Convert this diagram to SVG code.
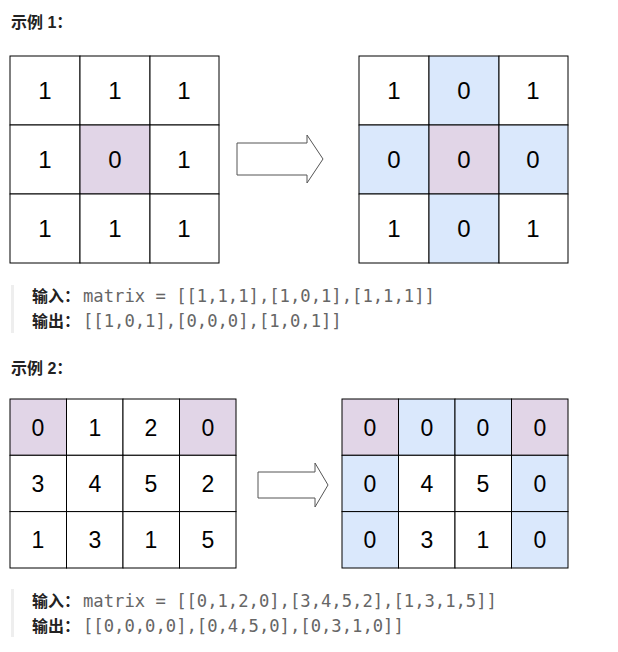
<svg xmlns="http://www.w3.org/2000/svg" width="618" height="652" viewBox="0 0 618 652">
<style>
.c{stroke:#000;stroke-width:1}
.n{font-family:"Liberation Sans",Arial,sans-serif;font-size:24px;text-anchor:middle;fill:#000}
.s{font-family:"Liberation Sans",Arial,sans-serif;font-size:23px;text-anchor:middle;fill:#000}
.h{font-family:"Liberation Sans","Noto Sans CJK SC",sans-serif;font-size:16px;font-weight:bold;fill:#222}
.code{font-family:"DejaVu Sans Mono",monospace;font-size:17.2px;fill:#666}
.w{fill:#fff}.p{fill:#e1d5e7}.b{fill:#dae8fc}
.arr{fill:#fff;stroke:#555;stroke-width:1}
</style>
<rect width="618" height="652" fill="#fff"/>
<text class="h" x="11" y="28">示例 1：</text>
<g id="grid1">
<rect class="c w" x="10" y="56" width="70" height="69"/><text class="n" x="45" y="99">1</text>
<rect class="c w" x="80" y="56" width="70" height="69"/><text class="n" x="115" y="99">1</text>
<rect class="c w" x="150" y="56" width="69" height="69"/><text class="n" x="184" y="99">1</text>
<rect class="c w" x="10" y="125" width="70" height="69"/><text class="n" x="45" y="168">1</text>
<rect class="c p" x="80" y="125" width="70" height="69"/><text class="n" x="115" y="168">0</text>
<rect class="c w" x="150" y="125" width="69" height="69"/><text class="n" x="184" y="168">1</text>
<rect class="c w" x="10" y="194" width="70" height="69"/><text class="n" x="45" y="237">1</text>
<rect class="c w" x="80" y="194" width="70" height="69"/><text class="n" x="115" y="237">1</text>
<rect class="c w" x="150" y="194" width="69" height="69"/><text class="n" x="184" y="237">1</text>
</g>
<g id="grid2">
<rect class="c w" x="359" y="56" width="70" height="69"/><text class="n" x="394" y="99">1</text>
<rect class="c b" x="429" y="56" width="70" height="69"/><text class="n" x="464" y="99">0</text>
<rect class="c w" x="499" y="56" width="69" height="69"/><text class="n" x="533" y="99">1</text>
<rect class="c b" x="359" y="125" width="70" height="69"/><text class="n" x="394" y="168">0</text>
<rect class="c p" x="429" y="125" width="70" height="69"/><text class="n" x="464" y="168">0</text>
<rect class="c b" x="499" y="125" width="69" height="69"/><text class="n" x="533" y="168">0</text>
<rect class="c w" x="359" y="194" width="70" height="69"/><text class="n" x="394" y="237">1</text>
<rect class="c b" x="429" y="194" width="70" height="69"/><text class="n" x="464" y="237">0</text>
<rect class="c w" x="499" y="194" width="69" height="69"/><text class="n" x="533" y="237">1</text>
</g>
<g id="connectors">
<polygon class="arr" points="237,143 307,143 307,135 323,159 307,183 307,175 237,175"/>
<polygon class="arr" points="258,472 315,472 315,463 328,485 315,507 315,498 258,498"/>
</g>
<rect x="11" y="285" width="3" height="48" fill="#eee"/>
<text class="h" x="32" y="302">输入：</text><text class="code" x="83" y="302">matrix = [[1,1,1],[1,0,1],[1,1,1]]</text>
<text class="h" x="32" y="327">输出：</text><text class="code" x="83" y="327">[[1,0,1],[0,0,0],[1,0,1]]</text>
<text class="h" x="11" y="374">示例 2：</text>
<g id="grid3">
<rect class="c p" x="10" y="399" width="56.5" height="56.3"/><text class="s" x="38" y="436">0</text>
<rect class="c w" x="66.5" y="399" width="56.5" height="56.3"/><text class="s" x="95" y="436">1</text>
<rect class="c w" x="123" y="399" width="56.5" height="56.3"/><text class="s" x="151" y="436">2</text>
<rect class="c p" x="179.5" y="399" width="56.5" height="56.3"/><text class="s" x="208" y="436">0</text>
<rect class="c w" x="10" y="455.3" width="56.5" height="56.3"/><text class="s" x="38" y="492">3</text>
<rect class="c w" x="66.5" y="455.3" width="56.5" height="56.3"/><text class="s" x="95" y="492">4</text>
<rect class="c w" x="123" y="455.3" width="56.5" height="56.3"/><text class="s" x="151" y="492">5</text>
<rect class="c w" x="179.5" y="455.3" width="56.5" height="56.3"/><text class="s" x="208" y="492">2</text>
<rect class="c w" x="10" y="511.6" width="56.5" height="56.4"/><text class="s" x="38" y="548">1</text>
<rect class="c w" x="66.5" y="511.6" width="56.5" height="56.4"/><text class="s" x="95" y="548">3</text>
<rect class="c w" x="123" y="511.6" width="56.5" height="56.4"/><text class="s" x="151" y="548">1</text>
<rect class="c w" x="179.5" y="511.6" width="56.5" height="56.4"/><text class="s" x="208" y="548">5</text>
</g>
<g id="grid4">
<rect class="c p" x="342" y="399" width="56.5" height="56.3"/><text class="s" x="370" y="436">0</text>
<rect class="c b" x="398.5" y="399" width="56.5" height="56.3"/><text class="s" x="427" y="436">0</text>
<rect class="c b" x="455" y="399" width="56.5" height="56.3"/><text class="s" x="483" y="436">0</text>
<rect class="c p" x="511.5" y="399" width="56.5" height="56.3"/><text class="s" x="540" y="436">0</text>
<rect class="c b" x="342" y="455.3" width="56.5" height="56.3"/><text class="s" x="370" y="492">0</text>
<rect class="c w" x="398.5" y="455.3" width="56.5" height="56.3"/><text class="s" x="427" y="492">4</text>
<rect class="c w" x="455" y="455.3" width="56.5" height="56.3"/><text class="s" x="483" y="492">5</text>
<rect class="c b" x="511.5" y="455.3" width="56.5" height="56.3"/><text class="s" x="540" y="492">0</text>
<rect class="c b" x="342" y="511.6" width="56.5" height="56.4"/><text class="s" x="370" y="548">0</text>
<rect class="c w" x="398.5" y="511.6" width="56.5" height="56.4"/><text class="s" x="427" y="548">3</text>
<rect class="c w" x="455" y="511.6" width="56.5" height="56.4"/><text class="s" x="483" y="548">1</text>
<rect class="c b" x="511.5" y="511.6" width="56.5" height="56.4"/><text class="s" x="540" y="548">0</text>
</g>
<rect x="11" y="589" width="3" height="48" fill="#eee"/>
<text class="h" x="32" y="607">输入：</text><text class="code" x="83" y="607">matrix = [[0,1,2,0],[3,4,5,2],[1,3,1,5]]</text>
<text class="h" x="32" y="632">输出：</text><text class="code" x="83" y="632">[[0,0,0,0],[0,4,5,0],[0,3,1,0]]</text>
</svg>
